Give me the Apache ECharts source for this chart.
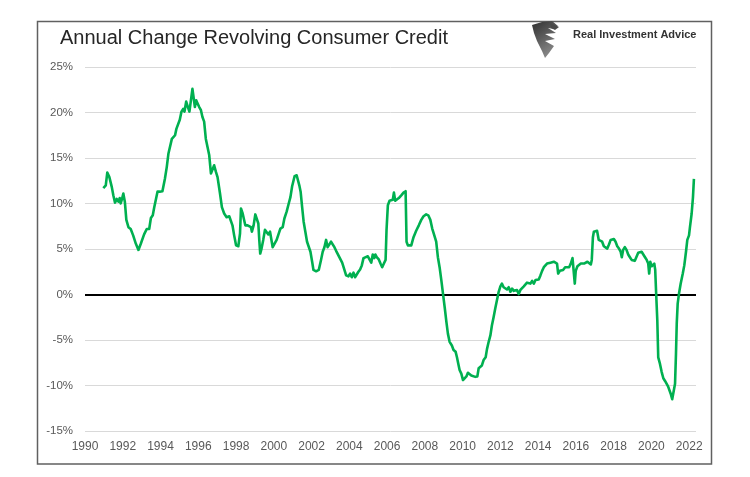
<!DOCTYPE html>
<html>
<head>
<meta charset="utf-8">
<script src="https://cdn.jsdelivr.net/npm/echarts@6/dist/echarts.min.js"></script>
<style>
html,body{margin:0;padding:0;background:#fff;}
#chart{width:750px;height:477px;}
</style>
</head>
<body>
<div id="chart"></div>
<script>
// Data: [decimal year, annual % change]
const years = [
1990.97,1991.10,1991.18,1991.29,1991.42,1991.50,1991.59,1991.68,1991.77,1991.84,1991.89,1991.96,
1992.03,1992.11,1992.19,1992.30,1992.42,1992.55,1992.69,1992.83,1992.96,
1993.13,1993.27,1993.40,1993.49,1993.59,1993.66,1993.75,1993.84,1993.96,
1994.10,1994.23,1994.33,1994.42,1994.51,1994.60,1994.68,1994.77,1994.84,1994.93,
1995.02,1995.11,1995.20,1995.27,1995.36,1995.45,1995.53,1995.62,1995.69,1995.75,1995.82,1995.89,1995.96,
1996.05,1996.14,1996.22,1996.31,1996.40,1996.49,1996.58,1996.67,1996.75,1996.84,1996.93,
1997.02,1997.15,1997.25,1997.37,1997.50,1997.64,1997.73,1997.81,1997.90,
1998.00,1998.12,1998.21,1998.26,1998.35,1998.42,1998.49,1998.61,1998.70,1998.79,1998.84,1998.93,
1999.02,1999.11,1999.18,1999.23,1999.28,1999.35,1999.44,1999.53,1999.62,1999.71,1999.80,1999.85,1999.94,
2000.04,2000.15,2000.26,2000.35,2000.47,2000.56,2000.68,2000.79,2000.88,2000.97,
2001.05,2001.10,2001.21,2001.28,2001.35,2001.42,2001.50,2001.58,2001.67,2001.76,2001.85,2001.94,
2002.03,2002.10,2002.24,2002.38,2002.50,2002.59,2002.68,2002.77,2002.85,2002.94,
2003.03,2003.12,2003.21,2003.30,2003.38,2003.47,2003.62,2003.74,2003.83,2003.95,
2004.04,2004.13,2004.22,2004.31,2004.39,2004.48,2004.57,2004.66,2004.75,2004.85,2004.98,
2005.07,2005.16,2005.24,2005.32,2005.38,2005.45,2005.56,2005.65,2005.74,2005.83,2005.92,2005.97,
2006.04,2006.13,2006.22,2006.30,2006.36,2006.43,2006.52,2006.62,2006.75,2006.87,2006.98,
2007.03,2007.10,2007.19,2007.28,2007.40,2007.54,2007.68,2007.81,2007.93,
2008.07,2008.18,2008.29,2008.39,2008.50,2008.60,2008.69,2008.78,2008.87,2008.96,
2009.05,2009.14,2009.22,2009.31,2009.43,2009.52,2009.63,2009.70,2009.77,2009.84,2009.93,
2010.02,2010.11,2010.20,2010.28,2010.37,2010.46,2010.55,2010.67,2010.78,2010.85,2010.94,
2011.02,2011.11,2011.22,2011.29,2011.38,2011.47,2011.55,2011.64,2011.73,2011.82,2011.91,
2012.00,2012.08,2012.17,2012.27,2012.35,2012.44,2012.53,2012.62,2012.71,2012.80,2012.88,2012.97,
2013.06,2013.15,2013.24,2013.33,2013.41,2013.50,2013.59,2013.68,2013.77,2013.86,2013.94,
2014.03,2014.12,2014.21,2014.30,2014.39,2014.47,2014.56,2014.65,2014.74,2014.83,2014.92,
2015.00,2015.06,2015.15,2015.24,2015.32,2015.43,2015.53,2015.64,2015.73,2015.82,2015.89,2015.94,2015.99,
2016.08,2016.17,2016.26,2016.35,2016.43,2016.52,2016.61,2016.70,2016.79,2016.84,2016.90,2016.95,
2017.04,2017.12,2017.21,2017.30,2017.39,2017.48,2017.57,2017.66,2017.75,2017.84,2017.92,
2018.01,2018.10,2018.19,2018.28,2018.37,2018.43,2018.50,2018.59,2018.68,2018.77,2018.86,2018.95,
2019.03,2019.12,2019.21,2019.30,2019.39,2019.48,2019.57,2019.66,2019.75,2019.83,2019.88,2019.94,
2020.01,2020.06,2020.15,2020.20,2020.25,2020.31,2020.36,2020.45,2020.54,2020.63,2020.72,2020.81,2020.88,2020.94,
2021.02,2021.10,2021.18,2021.25,2021.30,2021.34,2021.39,2021.46,2021.55,2021.66,2021.74,2021.83,2021.90,2021.99,
2022.04,2022.13,2022.20,2022.25
];
const changePct = [
11.7,12.0,13.4,12.9,11.8,10.9,10.1,10.5,10.2,10.6,10.0,10.5,
11.1,10.2,8.2,7.4,7.2,6.5,5.6,4.9,5.6,
6.6,7.2,7.2,8.4,8.7,9.5,9.6,11.3,11.3,
11.35,12.7,14.0,15.5,15.7,17.1,17.0,17.5,18.2,18.2,
19.2,20.1,20.4,20.1,21.2,20.6,20.1,21.5,22.6,22.8,20.6,21.35,21.0,
20.6,20.25,19.5,19.0,17.1,17.0,15.3,13.3,13.5,14.2,13.5,
12.9,11.1,9.6,8.9,8.5,8.6,8.5,7.6,6.5,
5.4,5.3,6.7,9.45,8.9,9.1,7.6,7.6,7.5,7.4,6.9,7.6,
8.8,8.6,7.8,6.0,4.5,5.05,6.0,7.1,6.9,6.6,6.9,6.3,5.2,
5.2,6.0,6.7,7.25,7.4,8.35,9.1,10.0,10.7,11.9,
12.0,13.0,13.1,12.9,12.0,11.3,9.6,8.0,6.9,5.8,5.6,4.7,
3.6,2.7,2.55,2.7,3.8,4.7,5.2,6.0,5.2,5.3,
5.8,6.0,5.2,4.8,4.7,4.1,3.5,2.7,2.1,2.0,
2.3,1.9,2.4,1.9,2.0,2.5,2.75,3.2,4.0,4.2,4.2,
4.4,3.5,4.4,4.0,4.4,4.1,3.85,3.4,3.0,3.4,3.8,7.1,
9.8,10.3,10.2,10.4,11.2,10.3,10.4,10.6,10.9,11.2,11.35,
5.8,5.4,5.5,5.4,6.3,7.0,7.6,8.2,8.6,
8.8,8.7,8.2,7.25,6.5,5.8,4.1,3.0,1.6,0.1,
-1.4,-3.0,-4.3,-5.2,-5.6,-6.1,-6.3,-6.9,-7.6,-8.3,-8.7,
-9.4,-9.6,-9.0,-8.6,-8.7,-8.9,-9.0,-9.05,-9.0,-8.1,-8.3,
-7.8,-7.2,-6.9,-6.0,-5.2,-4.5,-3.4,-2.5,-1.5,-0.6,0.3,
0.9,1.2,0.8,1.0,0.55,0.8,0.3,0.65,0.4,0.55,0.5,0.05,
0.5,0.55,0.9,1.0,1.3,1.4,1.2,1.5,1.2,1.6,1.75,
1.65,2.1,2.6,3.0,3.1,3.4,3.3,3.5,3.4,3.6,3.5,
3.4,2.3,2.6,2.4,2.7,3.0,3.1,3.0,3.4,4.0,4.0,1.2,2.6,
3.1,3.2,3.4,3.4,3.4,3.4,3.6,3.5,3.3,3.8,6.3,6.9,
6.8,7.0,6.0,6.0,5.8,5.3,5.2,5.05,5.5,6.0,6.0,
6.1,5.8,5.3,5.05,4.7,4.1,4.9,5.2,4.9,4.4,4.1,3.8,
3.8,3.7,3.5,4.6,4.7,4.7,4.5,4.1,3.8,3.4,2.3,3.6,
3.1,3.3,3.4,2.7,0.1,-2.8,-6.9,-7.6,-8.5,-9.2,-9.5,-9.6,-10.1,-10.15,
-10.9,-11.5,-11.5,-9.8,-6.5,-3.2,-1.0,0.1,1.2,2.3,3.2,4.7,6.0,6.5,
7.4,8.9,10.7,12.7
];
const yTicks = [-15,-10,-5,0,5,10,15,20,25];
const xTickYears = [1990,1992,1994,1996,1998,2000,2002,2004,2006,2008,2010,2012,2014,2016,2018,2020,2022];
const titleText = 'Annual Change Revolving Consumer Credit';
const brandText = 'Real Investment Advice';

const seriesData = years.map((y, i) => [y, changePct[i]]);

const chart = echarts.init(document.getElementById('chart'), null, {renderer: 'canvas'});
const font = '"Liberation Sans", Arial, sans-serif';
chart.setOption({
  backgroundColor: '#ffffff',
  animation: false,
  grid: {left: 85, right: 54, top: 67, bottom: 46, containLabel: false},
  xAxis: {
    type: 'value',
    min: xTickYears[0],
    max: 2022.36,
    interval: 2,
    axisLine: {show: false},
    axisTick: {show: false},
    splitLine: {show: false},
    axisLabel: {
      color: '#595959', fontSize: 12, fontFamily: font, margin: 10,
      showMaxLabel: false,
      formatter: v => (Math.abs(v - Math.round(v)) < 1e-6 && xTickYears.indexOf(Math.round(v)) >= 0) ? String(Math.round(v)) : ''
    }
  },
  yAxis: {
    type: 'value',
    min: yTicks[0],
    max: yTicks[yTicks.length - 1],
    interval: 5,
    axisLine: {show: false},
    axisTick: {show: false},
    splitLine: {show: true, lineStyle: {color: '#d9d9d9', width: 1}},
    axisLabel: {color: '#595959', fontSize: 11.5, fontFamily: font, margin: 12, formatter: '{value}%'}
  },
  series: [{
    type: 'line',
    data: seriesData,
    showSymbol: false,
    symbol: 'none',
    lineStyle: {color: '#00B050', width: 2.6, join: 'round'},
    z: 3,
    markLine: {
      silent: true,
      symbol: ['none', 'none'],
      label: {show: false},
      lineStyle: {color: '#000000', width: 2, type: 'solid'},
      data: [{yAxis: 0}],
      z: 2
    }
  }],
  graphic: [
    {type: 'rect', shape: {x: 37.5, y: 21.5, width: 674, height: 442.5},
     style: {fill: 'none', stroke: '#606060', lineWidth: 1.5}, silent: true, z: -1},
    {type: 'text', left: 60, top: 28,
     style: {text: titleText, fill: '#262626', font: '20px ' + font}},
    {type: 'group', left: 532, top: 21, children: [
      {type: 'polygon', shape: {points: [[0,4],[10,1],[20,0],[26,5],[22,8],[16,7],[24,12],[13,13],[23,18],[13,20],[22,25],[17,32],[13,37],[10,30],[5,20],[2,12]]},
       style: {fill: new echarts.graphic.LinearGradient(0,0,1,1,[{offset:0,color:'#2f2f2f'},{offset:1,color:'#9a9a9a'}])}},
      {type: 'polygon', shape: {points: [[18,2],[27,6],[23,9],[19,7]]}, style: {fill: '#4a4a4a'}}
    ]},
    {type: 'text', left: 573, top: 29,
     style: {text: brandText, fill: '#333333', font: 'bold 11px ' + font}}
  ]
});
</script>
</body>
</html>
